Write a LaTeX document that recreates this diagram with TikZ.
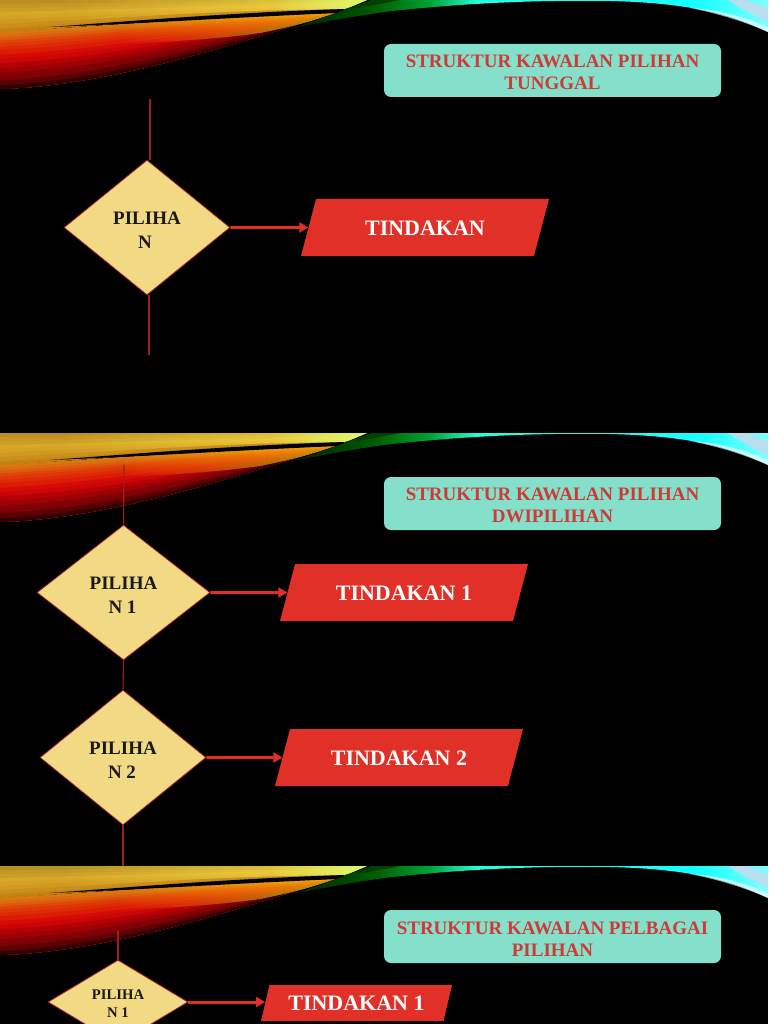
\documentclass[tikz,border=0pt]{standalone}
\usepackage{fontspec}
\setmainfont{Liberation Serif}
\usetikzlibrary{shapes.geometric,arrows.meta,fadings}
\definecolor{boxteal}{HTML}{84E0CB}
\definecolor{titlered}{HTML}{CF3A36}
\definecolor{actred}{HTML}{E03028}
\definecolor{diafill}{HTML}{F2D984}
\definecolor{linedark}{HTML}{A01F1C}
\definecolor{lowA}{HTML}{D87810}
\definecolor{lowB}{HTML}{DE5A0C}
\definecolor{lowC}{HTML}{DF2A05}
\definecolor{lowD}{HTML}{D80A08}
\definecolor{lowE}{HTML}{B50005}
\definecolor{lowF}{HTML}{800005}
\definecolor{lowG}{HTML}{300002}
\definecolor{upA}{HTML}{B89020}
\definecolor{upB}{HTML}{D8A828}
\definecolor{upC}{HTML}{C08012}
\pgfdeclarehorizontalshading{coolband}{100bp}{color(0bp)=(black!90!green); color(25bp)=(black!90!green); color(34bp)=(green!35!black); color(40bp)=(green!55!black!80!cyan); color(45bp)=(cyan!85!green!85!white); color(68bp)=(cyan!90!white); color(75bp)=(cyan!50!white); color(100bp)=(cyan!50!white)}
\tikzset{
  titlebox/.style={draw=none,fill=boxteal,rounded corners=7pt,minimum width=337pt,minimum height=53pt,inner sep=0pt,align=center,text=titlered,font=\fontsize{19}{22}\selectfont\bfseries},
  choice/.style={shape=diamond,fill=diafill,draw=linedark,line width=.8pt,inner sep=0pt,align=center,text=black!90,font=\fontsize{19}{24}\selectfont\bfseries},
  act/.style={shape=trapezium,trapezium left angle=#1,trapezium right angle=180-#1,trapezium stretches body=true,fill=actred,draw=none,inner sep=0pt,text=white,font=\fontsize{22}{24}\selectfont\bfseries},
  thin link/.style={draw=linedark,line width=1.1pt},
  act link/.style={draw=actred,line width=3pt,-{Triangle[length=9pt,width=10pt]}}
}
\newcommand{\banner}{%
  % upper gold band
  \foreach \t/\c in {0/upA,.12/upA!70!upB,.25/upA!40!upB,.38/upB,.5/upB!85!upC,.62/upB!65!upC,.75/upB!40!upC,.88/upB!15!upC,.95/upC}{%
    \pgfmathsetmacro\ya{32*\t}%
    \pgfmathsetmacro\cb{24*\t}%
    \pgfmathsetmacro\cc{15*\t}%
    \pgfmathsetmacro\tip{367-22*\t}%
    \pgfmathsetmacro\tipy{9*\t}%
    \fill[\c] (0,\ya) .. controls (110,\cb) and (225,\cc) .. (\tip,\tipy) -- (345,9) .. controls (225,15) and (110,24) .. (0,32) -- cycle;
  }
  \fill[yellow!65!white!90!orange,opacity=.75,path fading=west] (60,0) -- (367,0) -- (345,9) .. controls (250,10) and (160,14) .. (60,22) -- cycle;
  \fill[white!75!green!60!yellow,opacity=.85,path fading=west] (270,0) -- (367,0) -- (345,9) -- (270,11) -- cycle;
  % lower fire band
  \foreach \t/\c in {0/lowA,.05/lowA!65!lowB,.1/lowB,.15/lowB!60!lowC,.2/lowB!30!lowC,.26/lowC,.32/lowC!60!lowD,.4/lowD,.47/lowD!60!lowE,.55/lowE,.63/lowE!55!lowF,.72/lowF,.84/lowF!55!lowG,.93/lowG}{%
    \pgfmathsetmacro\ya{32+57*\t}%
    \pgfmathsetmacro\cb{24+61*\t}%
    \pgfmathsetmacro\cx{225+25*\t}%
    \pgfmathsetmacro\cc{17+21*\t}%
    \fill[\c] (0,\ya) .. controls (120,\cb) and (\cx,\cc) .. (335,13) .. controls (250,38) and (120,85) .. (0,89) -- cycle;
  }
  \fill[yellow!55!orange,opacity=.8,path fading=west] (120,24) .. controls (190,19) and (270,15) .. (335,13) .. controls (310,22) and (290,27) .. (260,33) .. controls (210,40) and (160,42) .. (120,44) -- cycle;
  % dark sliver
  \fill[black] (50,27) .. controls (133,21) and (233,12.5) .. (345,9) -- (338,13) .. controls (233,17.5) and (133,24) .. (50,27) -- cycle;
  % cool band
  \shade[shading=coolband]
    (285,30) .. controls (320,20) and (350,8) .. (372,0) -- (768,0) -- (768,32)
    .. controls (730,14) and (690,3) .. (610,1)
    .. controls (550,0) and (470,2) .. (384,12)
    .. controls (350,17) and (315,23) .. (285,30) -- cycle;
  \fill[black!75!green] (345,9) .. controls (355,6) and (365,3) .. (372,0) -- (400,0) .. controls (380,4) and (360,8) .. (345,9) -- cycle;
  \fill[white,opacity=.6] (690,8) .. controls (720,14) and (745,22) .. (768,32) -- (768,27) .. controls (745,17) and (720,10) .. (690,8) -- cycle;
  \fill[black!20!cyan!30!white] (728,0) .. controls (740,8) and (755,16) .. (768,22) -- (768,8) .. controls (760,5) and (752,2) .. (745,0) -- cycle;
}
\begin{document}
\begin{tikzpicture}[x=1pt,y=-1pt]
\useasboundingbox (0,0) rectangle (768,1024);
\clip (0,0) rectangle (768,1024);
\fill[black] (0,0) rectangle (768,1024);
\banner
\begin{scope}[shift={(0,433)}]\banner\end{scope}
\begin{scope}[shift={(0,866)}]\banner\end{scope}

% panel 1
\node[titlebox] (t1) at (552.5,70.5) {\rule{0pt}{17pt}STRUKTUR KAWALAN PILIHAN\\TUNGGAL};
\node[choice,minimum width=166pt,minimum height=135pt] (c1) at (147,227.5) {\rule{0pt}{17pt}PILIHA\\N\hspace*{4pt}};
\node[act=47.9,minimum width=248pt,minimum height=57pt] (a1) at (425,227.5) {\rule{0pt}{16.6pt}TINDAKAN};
\coordinate (c1in) at (150,99);
\coordinate (c1out) at (149,355);
\draw[thin link] (c1in) -- (c1in |- c1.north);
\draw[thin link] (c1out |- c1.south) -- (c1out);
\draw[act link] (c1.east) -- (a1.west);

% panel 2
\node[titlebox] (t2) at (552.5,503.5) {\rule{0pt}{17pt}STRUKTUR KAWALAN PILIHAN\\DWIPILIHAN};
\node[choice,minimum width=173pt,minimum height=135pt] (c2) at (123.5,592.5) {\rule{0pt}{17pt}PILIHA\\N 1\hspace*{2pt}};
\node[act=47.9,minimum width=248pt,minimum height=57pt] (a2) at (404,592.5) {\rule{0pt}{16.6pt}TINDAKAN 1};
\node[choice,minimum width=166pt,minimum height=135pt] (c3) at (123,757.5) {\rule{0pt}{17pt}PILIHA\\N 2\hspace*{2pt}};
\node[act=47.9,minimum width=248pt,minimum height=57pt] (a3) at (399,757.5) {\rule{0pt}{16.6pt}TINDAKAN 2};
\coordinate (c2in) at (124,465);
\coordinate (c3out) at (123,866);
\draw[thin link] (c2in) -- (c2.north);
\draw[thin link] (c2.south) -- (c3.north);
\draw[thin link] (c3.south) -- (c3out);
\draw[act link] (c2.east) -- (a2.west);
\draw[act link] (c3.east) -- (a3.west);

% panel 3
\node[titlebox] (t3) at (552.5,936.5) {\rule{0pt}{17pt}STRUKTUR KAWALAN PELBAGAI\\PILIHAN};
\node[choice,minimum width=140pt,minimum height=84pt,font=\fontsize{14.7}{18}\selectfont\bfseries] (c4) at (118,1002) {\rule{0pt}{13pt}PILIHA\\N 1};
\node[act=59.8,minimum width=191pt,minimum height=36pt] (a4) at (356.5,1003) {TINDAKAN 1};
\coordinate (c4in) at (118,930);
\draw[thin link] (c4in) -- (c4.north);
\draw[act link] (c4.east) -- (a4.west |- c4.east);
\end{tikzpicture}
\end{document}
